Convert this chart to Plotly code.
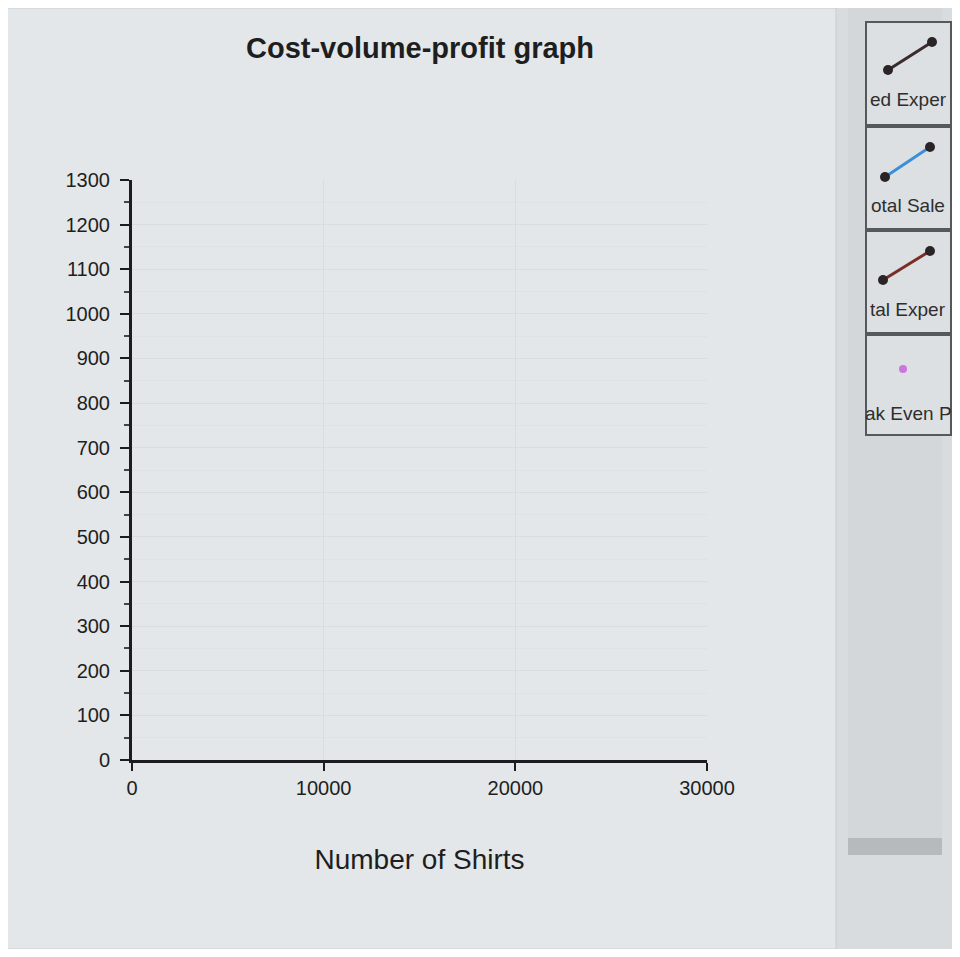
import plotly.graph_objects as go

# chart values (graph is still empty in the reference)
series_names = ["Fixed Expenses", "Total Sales", "Total Expenses", "Break Even Point"]
series_colors = ["#3a2c2c", "#3b8fd8", "#7a2e26", "#cf73e0"]
shirts = [[], [], [], []]
dollars = [[], [], [], []]
legend_labels = ["ed Exper", "otal Sale", "tal Exper", "ak Even P"]

x_ticks = [0, 10000, 20000, 30000]
y_ticks = [0, 100, 200, 300, 400, 500, 600, 700, 800, 900, 1000, 1100, 1200, 1300]

# page has an 8px body margin, so the figure is a bit smaller than the window
OFF = 8
W, H = 960 - 2 * OFF, 957 - 2 * OFF
L, R, T, B = 132, 707, 180, 760   # plot area in window pixels


def px(x):
    return (x - L) / (R - L)


def py(y):
    return (B - y) / (B - T)


fig = go.Figure()

for i, name in enumerate(series_names):
    mode = 'markers' if name == "Break Even Point" else 'lines+markers'
    fig.add_trace(go.Scatter(
        x=shirts[i],
        y=dollars[i],
        mode=mode,
        name=name,
        line=dict(color=series_colors[i], width=3),
        marker=dict(color=series_colors[i], size=8),
        showlegend=False,
    ))

shapes = []
# chart panel
shapes.append(dict(type='rect', xref='paper', yref='paper', layer='below',
                   x0=px(0), x1=px(836), y0=py(OFF), y1=py(957 - OFF),
                   fillcolor='#e3e7e9', line=dict(color='#c9cdcf', width=1)))
# side panel
shapes.append(dict(type='rect', xref='paper', yref='paper', layer='below',
                   x0=px(848), x1=px(942), y0=py(OFF), y1=py(855),
                   fillcolor='#d3d7d9', line=dict(width=0)))
shapes.append(dict(type='rect', xref='paper', yref='paper', layer='below',
                   x0=px(848), x1=px(942), y0=py(838), y1=py(855),
                   fillcolor='#b6babc', line=dict(width=0)))

boxes = [(22, 125), (127, 229), (231, 333), (335, 435)]
icons = [((888, 70), (932, 42)), ((885, 177), (930, 147)),
         ((883, 280), (930, 251)), None]
annotations = []
for i, (top, bot) in enumerate(boxes):
    shapes.append(dict(type='rect', xref='paper', yref='paper',
                       x0=px(866), x1=px(951), y0=py(bot), y1=py(top),
                       fillcolor='#dde0e2', line=dict(color='#55595b', width=2)))
    if icons[i] is not None:
        (ax0, ay0), (ax1, ay1) = icons[i]
        shapes.append(dict(type='line', xref='paper', yref='paper',
                           x0=px(ax0), y0=py(ay0), x1=px(ax1), y1=py(ay1),
                           line=dict(color=series_colors[i], width=3)))
        for cx, cy in [(ax0, ay0), (ax1, ay1)]:
            shapes.append(dict(type='circle', xref='paper', yref='paper',
                               x0=px(cx - 5), x1=px(cx + 5), y0=py(cy + 5), y1=py(cy - 5),
                               fillcolor='#2a2426', line=dict(width=0)))
    else:
        shapes.append(dict(type='circle', xref='paper', yref='paper',
                           x0=px(899), x1=px(907), y0=py(373), y1=py(365),
                           fillcolor=series_colors[i], line=dict(width=0)))
    annotations.append(dict(xref='paper', yref='paper',
                            x=px(908), y=py(top + 78), text=legend_labels[i],
                            showarrow=False, xanchor='center', yanchor='middle',
                            font=dict(size=19, color='#2e2e2e')))

fig.update_layout(
    width=W, height=H,
    margin=dict(l=L - OFF, r=W - (R - OFF), t=T - OFF, b=H - (B - OFF)),
    paper_bgcolor='#d9dcde',
    plot_bgcolor='#e7ebed',
    font=dict(family='Liberation Sans, Arial', color='#1e1e1e'),
    title=dict(text='<b>Cost-volume-profit graph</b>', x=px(420), xref='paper',
               xanchor='center', y=1 - (48 - OFF) / H, yref='container', yanchor='middle',
               font=dict(size=29, color='#1e1e1e')),
    xaxis=dict(
        range=[0, 30000], tickvals=x_ticks, ticktext=[str(v) for v in x_ticks],
        showline=True, linecolor='#1c1c1c', linewidth=3,
        ticks='outside', ticklen=8, tickwidth=2, tickcolor='#1c1c1c',
        tickfont=dict(size=20),
        showgrid=True, gridcolor='#d8dde0', gridwidth=1, zeroline=False,
        title=dict(text='Number of Shirts', font=dict(size=28), standoff=52),
    ),
    yaxis=dict(
        range=[0, 1300], tickvals=y_ticks,
        showline=True, linecolor='#1c1c1c', linewidth=3,
        ticks='outside', ticklen=9, tickwidth=2, tickcolor='#1c1c1c',
        tickfont=dict(size=20), ticklabelstandoff=6,
        showgrid=True, gridcolor='#d8dde0', gridwidth=1, zeroline=False,
        minor=dict(dtick=50, ticks='outside', ticklen=5, tickcolor='#444444',
                   showgrid=True, gridcolor='#dde2e5'),
    ),
    shapes=shapes,
    annotations=annotations,
    showlegend=False,
)

fig.write_html("out.html")
